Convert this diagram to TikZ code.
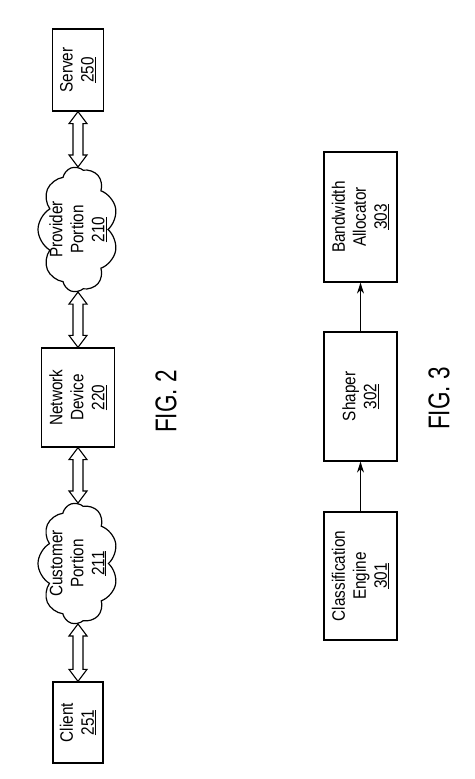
\documentclass[tikz,border=0pt]{standalone}
\usepackage{fontspec}
\setmainfont{Liberation Sans}[FakeStretch=0.85]
\newfontfamily\figfont{Liberation Sans}[FakeStretch=0.75]
\usetikzlibrary{arrows.meta,shapes.symbols,calc}

\newcommand{\boxfont}{\fontsize{18}{21}\selectfont}

% two-way block arrow, #1 upper end, #2 lower end
\newcommand{\widelink}[2]{%
  \draw[widearrow] (#1) -- ($(#1)+(9,12)$) -- ($(#1)+(5,12)$)
    -- ($(#2)+(5,-12)$) -- ($(#2)+(9,-12)$) -- (#2)
    -- ($(#2)+(-9,-12)$) -- ($(#2)+(-5,-12)$)
    -- ($(#1)+(-5,12)$) -- ($(#1)+(-9,12)$) -- cycle;}

\begin{document}
\begin{tikzpicture}[x=1pt, y=-1pt,
  box/.style={draw, line width=1.2pt, rotate=90, align=center, inner sep=2pt,
    font=\boxfont},
  net/.style={box, cloud, cloud puffs=9, cloud puff arc=120, cloud ignores aspect, inner sep=-8pt},
  widearrow/.style={line width=1.1pt, fill=white, line join=miter},
  flow/.style={line width=1pt, -{Stealth[length=11pt, width=7pt]}},
  figlabel/.style={rotate=90, font=\figfont\fontsize{30}{30}\selectfont}]
  \useasboundingbox (0,0) rectangle (474,779);

  % FIG. 2
  \node[box, minimum width=82, minimum height=51] (srv) at (78,70) {Server\\\underline{250}};
  \node[net, minimum width=125, minimum height=80] (prov) at (78,229.5) {Provider\\Portion\\\underline{210}};
  \node[box, minimum width=99, minimum height=73] (dev) at (78,397.5) {Network\\Device\\\underline{220}};
  \node[net, minimum width=121, minimum height=80] (cust) at (78,563.5) {Customer\\Portion\\\underline{211}};
  \node[box, minimum width=81, minimum height=50] (cli) at (78,722.5) {Client\\\underline{251}};

  \widelink{srv.west}{prov.east}
  \widelink{prov.west}{dev.east}
  \widelink{dev.west}{cust.east}
  \widelink{cust.west}{cli.east}

  \node[figlabel] (fig2) at (166,401.5) {FIG. 2};

  % FIG. 3
  \node[box, minimum width=130, minimum height=73] (alloc) at (360.5,217) {Bandwidth\\Allocator\\\underline{303}};
  \node[box, minimum width=129, minimum height=73] (shp) at (360.5,396.5) {Shaper\\\underline{302}};
  \node[box, minimum width=128, minimum height=73] (cls) at (360.5,576) {Classification\\Engine\\\underline{301}};

  \draw[flow] (cls) -- (shp);
  \draw[flow] (shp) -- (alloc);

  \node[figlabel] (fig3) at (439,398.5) {FIG. 3};
\end{tikzpicture}
\end{document}
